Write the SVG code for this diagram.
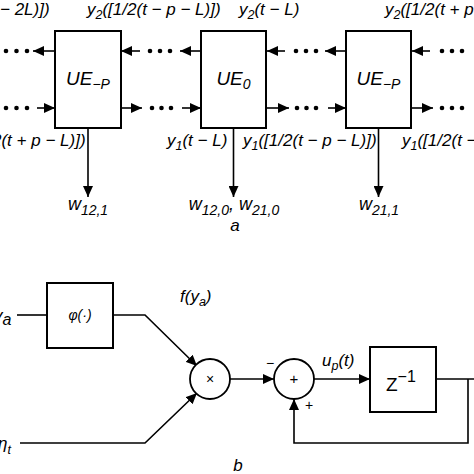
<svg xmlns="http://www.w3.org/2000/svg" width="474" height="474" viewBox="0 0 474 474">
<defs>
<marker id="ah" markerUnits="userSpaceOnUse" markerWidth="12" markerHeight="10" refX="11" refY="5" orient="auto">
<path d="M0,0 L11,5 L0,10 Z" fill="#000"/>
</marker>
<style>
.box{fill:#fff;stroke:#000;stroke-width:2}
.ln{fill:none;stroke:#000;stroke-width:1.6}
.ar{fill:none;stroke:#000;stroke-width:1.6;marker-end:url(#ah)}
.dot{fill:#000}
.t{font-family:"Liberation Sans",Arial,sans-serif;font-style:italic;font-size:17px;fill:#000}
.s{font-size:12.5px}
.u{font-family:"Liberation Sans",Arial,sans-serif;font-size:18px;fill:#000}
</style>
</defs>
<rect width="474" height="474" fill="#fff"/>

<g id="connectors">
<line class="ar" x1="55" y1="51" x2="33" y2="51"/>
<line class="ar" x1="140" y1="51" x2="121" y2="51"/>
<line class="ar" x1="201" y1="51" x2="180" y2="51"/>
<line class="ar" x1="285" y1="51" x2="267" y2="51"/>
<line class="ar" x1="346" y1="51" x2="325" y2="51"/>
<line class="ar" x1="430" y1="51" x2="412" y2="51"/>
<line class="ar" x1="37" y1="108" x2="55" y2="108"/>
<line class="ar" x1="121" y1="108" x2="142" y2="108"/>
<line class="ar" x1="182" y1="108" x2="201" y2="108"/>
<line class="ar" x1="266" y1="108" x2="289" y2="108"/>
<line class="ar" x1="328" y1="108" x2="346" y2="108"/>
<line class="ar" x1="411" y1="108" x2="433" y2="108"/>
<g class="dot">
<circle cx="6" cy="51" r="2.3"/><circle cx="16.5" cy="51" r="2.3"/><circle cx="27" cy="51" r="2.3"/>
<circle cx="150" cy="51" r="2.3"/><circle cx="160" cy="51" r="2.3"/><circle cx="170" cy="51" r="2.3"/>
<circle cx="296" cy="51" r="2.3"/><circle cx="306" cy="51" r="2.3"/><circle cx="316" cy="51" r="2.3"/>
<circle cx="442" cy="51" r="2.3"/><circle cx="452" cy="51" r="2.3"/><circle cx="462" cy="51" r="2.3"/>
<circle cx="6" cy="108" r="2.3"/><circle cx="16.5" cy="108" r="2.3"/><circle cx="27" cy="108" r="2.3"/>
<circle cx="152" cy="108" r="2.3"/><circle cx="161.5" cy="108" r="2.3"/><circle cx="171" cy="108" r="2.3"/>
<circle cx="297" cy="108" r="2.3"/><circle cx="306.5" cy="108" r="2.3"/><circle cx="316" cy="108" r="2.3"/>
<circle cx="442" cy="108" r="2.3"/><circle cx="452" cy="108" r="2.3"/><circle cx="462" cy="108" r="2.3"/>
</g>
<line class="ar" x1="88" y1="128" x2="88" y2="197"/>
<line class="ar" x1="233.5" y1="128" x2="233.5" y2="197"/>
<line class="ar" x1="378.5" y1="128" x2="378.5" y2="197"/>

<line class="ln" x1="17" y1="315" x2="47" y2="315"/>
<polyline class="ar" points="113,315 145,315 197,366"/>
<polyline class="ar" points="20,443 145,443 197,393"/>
<line class="ar" x1="230" y1="379" x2="274" y2="379"/>
<line class="ar" x1="314" y1="379" x2="370" y2="379"/>
<line class="ln" x1="436" y1="379" x2="474" y2="379"/>
<polyline class="ar" points="468,379 468,443 294,443 294,399"/>
</g>

<g id="ue-p-left">
<rect class="box" x="55" y="31" width="66" height="97"/>
<text class="t" x="88" y="85" text-anchor="middle" style="font-size:19px">UE<tspan dy="4" style="font-size:14px">−P</tspan></text>
</g>
<g id="ue-0">
<rect class="box" x="201" y="31" width="65" height="97"/>
<text class="t" x="233.5" y="85" text-anchor="middle" style="font-size:19px">UE<tspan dy="4" style="font-size:14px">0</tspan></text>
</g>
<g id="ue-p-right">
<rect class="box" x="346" y="31" width="65" height="97"/>
<text class="t" x="378.5" y="85" text-anchor="middle" style="font-size:19px">UE<tspan dy="4" style="font-size:14px">−P</tspan></text>
</g>

<g id="labels-a">
<text class="t" x="0" y="15">− 2L)])</text>
<text class="t" x="87" y="15">y<tspan class="s" dy="4">2</tspan><tspan dy="-4">([1/2(t − p − L)])</tspan></text>
<text class="t" x="239" y="15">y<tspan class="s" dy="4">2</tspan><tspan dy="-4">(t − L)</tspan></text>
<text class="t" x="385" y="15">y<tspan class="s" dy="4">2</tspan><tspan dy="-4">([1/2(t + p</tspan></text>
<text class="t" x="-8" y="146">2(t + p − L)])</text>
<text class="t" x="167" y="146">y<tspan class="s" dy="4">1</tspan><tspan dy="-4">(t − L)</tspan></text>
<text class="t" x="243" y="146">y<tspan class="s" dy="4">1</tspan><tspan dy="-4">([1/2(t − p − L)])</tspan></text>
<text class="t" x="402" y="146">y<tspan class="s" dy="4">1</tspan><tspan dy="-4">([1/2(t −</tspan></text>
<text class="t" x="88" y="210" text-anchor="middle" style="font-size:18px">w<tspan class="s" dy="5" style="font-size:14px">12,1</tspan></text>
<text class="t" x="234" y="210" text-anchor="middle" style="font-size:18px">w<tspan class="s" dy="5" style="font-size:14px">12,0</tspan><tspan dy="-5">, w</tspan><tspan class="s" dy="5" style="font-size:14px">21,0</tspan></text>
<text class="t" x="379" y="210" text-anchor="middle" style="font-size:18px">w<tspan class="s" dy="5" style="font-size:14px">21,1</tspan></text>
<text class="t" x="235" y="231" text-anchor="middle">a</text>
</g>

<g id="phi">
<rect class="box" x="47" y="283" width="66" height="65"/>
<text class="t" x="80" y="320" text-anchor="middle" style="font-size:14px">φ(·)</text>
</g>
<g id="mult">
<circle class="box" cx="210" cy="379" r="20" style="stroke-width:1.8"/>
<text class="u" x="210" y="384" text-anchor="middle" style="font-size:14px">×</text>
</g>
<g id="sum">
<circle class="box" cx="294" cy="379" r="20" style="stroke-width:1.8"/>
<text class="u" x="294" y="384" text-anchor="middle" style="font-size:15px">+</text>
</g>
<g id="delay">
<rect class="box" x="370" y="347" width="66" height="65"/>
<text class="u" x="386" y="391" style="font-size:19px">Z<tspan style="font-size:16px" dy="-9">−1</tspan></text>
</g>

<g id="labels-b">
<text class="t" x="-6" y="321">y<tspan class="s" dy="4" style="font-size:16px">a</tspan></text>
<text class="t" x="-2" y="449">η<tspan class="s" dy="5">t</tspan></text>
<text class="t" x="180" y="302">f(y<tspan class="s" dy="4">a</tspan><tspan dy="-4">)</tspan></text>
<text class="t" x="322" y="366">u<tspan class="s" dy="4">p</tspan><tspan dy="-4">(t)</tspan></text>
<text class="u" x="270" y="368" text-anchor="middle" style="font-size:14px">−</text>
<text class="u" x="309" y="410" text-anchor="middle" style="font-size:14px">+</text>
<text class="t" x="238" y="471" text-anchor="middle">b</text>
</g>
</svg>
